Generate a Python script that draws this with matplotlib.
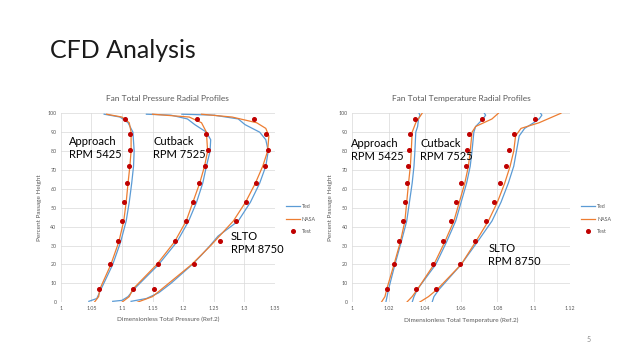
import numpy as np
import matplotlib.pyplot as plt

plt.rcParams['font.family'] = ['Lato', 'DejaVu Sans']

#### データ ####
# 試験点の高さ (%)
test_h = [7, 20.3, 32.3, 43.2, 53.3, 63.1, 72.1, 80.5, 89, 97]

# 全圧 試験値
p_test_app = [1.063, 1.081, 1.094, 1.100, 1.104, 1.108, 1.112, 1.113, 1.113, 1.105]
p_test_cut = [1.118, 1.159, 1.187, 1.204, 1.216, 1.226, 1.235, 1.241, 1.238, 1.222]
p_test_slto = [1.153, 1.217, 1.260, 1.286, 1.303, 1.319, 1.333, 1.338, 1.335, 1.315]

# 全圧 CFD (Ted / NASA)
p_ted_app_h = [0.5, 2, 7, 20, 32, 43, 53, 63, 72, 80, 90, 95, 98, 99.5]
p_ted_app = [1.046, 1.059, 1.066, 1.085, 1.098, 1.107, 1.112, 1.116, 1.119, 1.120, 1.118, 1.110, 1.097, 1.071]
p_nasa_app_h = [0, 3, 7, 20, 32, 43, 53, 63, 72, 80, 90, 95, 98, 99.5]
p_nasa_app = [1.055, 1.062, 1.064, 1.082, 1.095, 1.103, 1.107, 1.110, 1.113, 1.115, 1.115, 1.112, 1.100, 1.075]

p_ted_cut_h = [0.5, 1, 3, 7, 20, 32, 43, 53, 63, 72, 80, 86, 90, 94, 97, 99, 99.5]
p_ted_cut = [1.085, 1.100, 1.110, 1.120, 1.160, 1.190, 1.209, 1.222, 1.232, 1.238, 1.244, 1.245, 1.238, 1.219, 1.207, 1.180, 1.140]
p_nasa_cut_h = [0, 3, 7, 20, 32, 43, 53, 63, 72, 80, 90, 95, 98, 99.5]
p_nasa_cut = [1.100, 1.112, 1.118, 1.157, 1.186, 1.205, 1.216, 1.227, 1.235, 1.240, 1.238, 1.230, 1.210, 1.150]

p_ted_slto_h = [0.5, 2, 5, 10, 20, 25, 30, 35, 43, 53, 63, 72, 80, 86, 90, 94, 97, 99, 99.5]
p_ted_slto = [1.115, 1.140, 1.160, 1.180, 1.215, 1.230, 1.244, 1.257, 1.290, 1.310, 1.325, 1.335, 1.339, 1.335, 1.325, 1.301, 1.290, 1.250, 1.198]
p_nasa_slto_h = [0, 3, 7, 20, 30, 43, 53, 63, 72, 80, 88, 92, 95, 98, 99.5]
p_nasa_slto = [1.125, 1.150, 1.165, 1.214, 1.245, 1.282, 1.302, 1.318, 1.330, 1.338, 1.340, 1.335, 1.320, 1.280, 1.230]

# 全温 試験値
t_test_app = [1.0191, 1.0228, 1.0256, 1.0278, 1.0289, 1.0300, 1.0309, 1.0314, 1.0318, 1.0347]
t_test_cut = [1.0353, 1.0443, 1.0502, 1.0546, 1.0574, 1.0601, 1.0625, 1.0634, 1.0645, 1.0715]
t_test_slto = [1.0460, 1.0594, 1.0675, 1.0737, 1.0781, 1.0814, 1.0846, 1.0866, 1.0893, 1.1007]

# 全温 CFD (Ted / NASA)
t_ted_app_h = [0, 7, 20, 32, 43, 53, 63, 72, 80, 90, 93, 97, 99, 100]
t_ted_app = [1.0185, 1.0200, 1.0235, 1.0270, 1.0300, 1.0315, 1.0330, 1.0340, 1.0345, 1.0350, 1.0360, 1.0365, 1.0373, 1.0368]
t_nasa_app_h = [0, 3, 7, 20, 32, 43, 53, 63, 72, 80, 90, 95, 100]
t_nasa_app = [1.0160, 1.0180, 1.0190, 1.0230, 1.0265, 1.0290, 1.0300, 1.0310, 1.0320, 1.0325, 1.0330, 1.0350, 1.0385]

t_ted_cut_h = [0, 3, 7, 20, 32, 43, 53, 63, 72, 80, 90, 93, 97, 99, 100]
t_ted_cut = [1.033, 1.034, 1.036, 1.046, 1.052, 1.057, 1.060, 1.063, 1.065, 1.066, 1.067, 1.068, 1.072, 1.0735, 1.0728]
t_nasa_cut_h = [0, 3, 7, 20, 32, 43, 53, 63, 72, 80, 90, 93, 97, 100]
t_nasa_cut = [1.030, 1.033, 1.036, 1.045, 1.051, 1.056, 1.059, 1.062, 1.064, 1.065, 1.066, 1.068, 1.077, 1.0805]

t_ted_slto_h = [0, 3, 7, 20, 32, 43, 53, 63, 72, 80, 88, 92, 95, 97, 99, 100]
t_ted_slto = [1.044, 1.045, 1.048, 1.060, 1.069, 1.077, 1.082, 1.086, 1.089, 1.0905, 1.092, 1.095, 1.100, 1.103, 1.1045, 1.1038]
t_nasa_slto_h = [0, 3, 7, 20, 32, 43, 53, 63, 72, 80, 88, 92, 95, 100]
t_nasa_slto = [1.037, 1.042, 1.047, 1.060, 1.068, 1.075, 1.080, 1.084, 1.087, 1.089, 1.090, 1.093, 1.103, 1.115]

c_ted = '#5B9BD5'
c_nasa = '#ED7D31'
c_test = '#C00000'
c_txt = '#595959'

fig = plt.figure(figsize=(6.38, 3.59), dpi=100)
fig.text(0.078, 0.838, 'CFD Analysis', fontsize=18, color='#1a1a1a')
fig.text(0.919, 0.047, '5', fontsize=5, color='#8c8c8c')


def draw(ax, ted, nasa, test, title, xlabel, xlim, xticks, labels):
    for (xh, xv) in ted:
        ax.plot(xv, xh, color=c_ted, lw=0.9, label='Ted')
    for (xh, xv) in nasa:
        ax.plot(xv, xh, color=c_nasa, lw=0.9, label='NASA')
    for xv in test:
        ax.plot(xv, test_h, 'o', color=c_test, ms=2.6, ls='none', label='Test')
    ax.set_xlim(*xlim)
    ax.set_ylim(0, 100)
    ax.set_xticks(xticks)
    ax.set_xticklabels([f'{v:g}' for v in xticks])
    ax.set_yticks(range(0, 101, 10))
    ax.grid(True, color='#d9d9d9', lw=0.5)
    ax.set_axisbelow(True)
    for s in ax.spines.values():
        s.set_visible(False)
    ax.tick_params(length=0, labelsize=3.8, colors=c_txt, pad=3)
    ax.set_title(title, fontsize=6, color=c_txt, pad=9)
    ax.set_xlabel(xlabel, fontsize=4.6, color=c_txt, labelpad=4)
    ax.set_ylabel('Percent Passage Height', fontsize=4.6, color=c_txt, labelpad=4)
    for (tx, ty, s) in labels:
        ax.text(tx, ty, s, fontsize=8, va='top', ha='left', color='black', linespacing=1.2)
    h, l = ax.get_legend_handles_labels()
    ax.legend([h[0], h[3], h[6]], ['Ted', 'NASA', 'Test'], loc='center left',
              bbox_to_anchor=(1.03, 0.44), frameon=False, fontsize=3.8,
              handlelength=2.6, labelspacing=1.4, labelcolor=c_txt, handletextpad=0.4)


ax1 = fig.add_axes([0.0951, 0.158, 0.3359, 0.5265])
draw(ax1,
     [(p_ted_app_h, p_ted_app), (p_ted_cut_h, p_ted_cut), (p_ted_slto_h, p_ted_slto)],
     [(p_nasa_app_h, p_nasa_app), (p_nasa_cut_h, p_nasa_cut), (p_nasa_slto_h, p_nasa_slto)],
     [p_test_app, p_test_cut, p_test_slto],
     'Fan Total Pressure Radial Profiles', 'Dimensionless Total Pressure (Ref.2)',
     (1, 1.35), [1, 1.05, 1.1, 1.15, 1.2, 1.25, 1.3, 1.35],
     [(1.013, 88, 'Approach\nRPM 5425'), (1.151, 88, 'Cutback\nRPM 7525'), (1.278, 37.5, 'SLTO\nRPM 8750')])

ax2 = fig.add_axes([0.5522, 0.158, 0.3412, 0.5265])
draw(ax2,
     [(t_ted_app_h, t_ted_app), (t_ted_cut_h, t_ted_cut), (t_ted_slto_h, t_ted_slto)],
     [(t_nasa_app_h, t_nasa_app), (t_nasa_cut_h, t_nasa_cut), (t_nasa_slto_h, t_nasa_slto)],
     [t_test_app, t_test_cut, t_test_slto],
     'Fan Total Temperature Radial Profiles', 'Dimensionless Total Temperature (Ref.2)',
     (1, 1.12), [1, 1.02, 1.04, 1.06, 1.08, 1.1, 1.12],
     [(0.9995, 87, 'Approach\nRPM 5425'), (1.0375, 87, 'Cutback\nRPM 7525'), (1.075, 31.5, 'SLTO\nRPM 8750')])

plt.savefig('out.png', dpi=100)
